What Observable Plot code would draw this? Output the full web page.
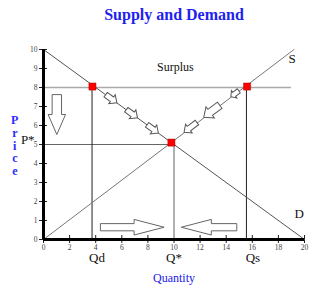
<!DOCTYPE html>
<html><head><meta charset="utf-8">
<script src="https://cdn.jsdelivr.net/npm/d3@7"></script>
<script src="https://cdn.jsdelivr.net/npm/@observablehq/plot@0.6"></script>
<style>
body{margin:0;background:#fff;width:320px;height:290px;overflow:hidden}
#title{height:30px;text-align:center;font:bold 16px "Liberation Serif",serif;color:#1f1fee;line-height:30px;padding-left:28px}
#chart svg{display:block}
</style></head><body>
<div id="title">Supply and Demand</div>
<div id="chart"></div>
<script>
// Curves
const demandQ = [0, 20], demandP = [10, 0];
const supplyQ = [0, 19.2], supplyP = [0, 10];
// Key points: Qd, equilibrium, Qs
const pointQ = [3.75, 9.8, 15.6], pointP = [8.05, 5.1, 8.05];
const surplusPrice = 8, eqPrice = 5, eqQ = 10;
const qdQ = 3.72, qsQ = 15.55;
// Tick values
const xTicks = [0, 2, 4, 6, 8, 10, 12, 14, 16, 18, 20];
const yTicks = [0, 1, 2, 3, 4, 5, 6, 7, 8, 9, 10];
// Quantity labels
const qLabels = ["Qd", "Q*", "Qs"];
const qLabelX = [4.1, 10, 16.05];
// Arrows (tail -> tip, data units) and kind
const arrowX1 = [1.06, 4.4, 14.85, 4.8, 6.38, 7.98, 15.0, 13.54, 11.79];
const arrowY1 = [7.6, 0.62, 0.62, 7.6, 6.81, 6.01, 7.8, 7.04, 6.13];
const arrowX2 = [1.06, 9.28, 10.6, 5.66, 7.24, 8.84, 14.4, 12.32, 10.81];
const arrowY2 = [5.5, 0.62, 0.62, 7.17, 6.38, 5.58, 7.49, 6.41, 5.62];
const arrowKind = ["lg", "wide", "wide", "sm", "sm", "sm", "xs", "md", "sm"];

const arrows = arrowX1.map((x1, i) => ({x1, y1: arrowY1[i], x2: arrowX2[i], y2: arrowY2[i], kind: arrowKind[i]}));
const kinds = {
  lg: {shaft: 4.7, head: 8.7, hl: 20, stroke: "#666"},
  wide: {shaft: 3.6, head: 7.8, hl: 30, stroke: "#666"},
  md: {shaft: 3.8, head: 7, hl: 8, stroke: "#555"},
  sm: {shaft: 2.8, head: 5.5, hl: 6, stroke: "#555"},
  xs: {shaft: 2.5, head: 4.5, hl: 4, stroke: "#555"}
};

function arrowMark(index, scales) {
  const g = d3.create("svg:g");
  for (const a of arrows) {
    const tx = scales.x(a.x1), ty = scales.y(a.y1);
    const px = scales.x(a.x2), py = scales.y(a.y2);
    const L = Math.hypot(px - tx, py - ty);
    const ang = Math.atan2(py - ty, px - tx) * 180 / Math.PI;
    const k = kinds[a.kind];
    const hb = L - k.hl;
    const pts = [[0, -k.shaft], [hb, -k.shaft], [hb, -k.head], [L, 0], [hb, k.head], [hb, k.shaft], [0, k.shaft]];
    g.append("polygon")
      .attr("points", pts.map(p => p.join(",")).join(" "))
      .attr("transform", `translate(${tx},${ty}) rotate(${ang})`)
      .attr("fill", "white").attr("stroke", k.stroke).attr("stroke-width", 1);
  }
  return g.node();
}

const serif = "Liberation Serif";
const demand = demandQ.map((q, i) => ({q, p: demandP[i]}));
const supply = supplyQ.map((q, i) => ({q, p: supplyP[i]}));
const points = pointQ.map((q, i) => ({q, p: pointP[i]}));

const chart = Plot.plot({
  width: 320, height: 260,
  marginTop: 19, marginBottom: 51, marginLeft: 43, marginRight: 16,
  x: {domain: [0, 20]},
  y: {domain: [0, 10]},
  style: {fontFamily: serif, background: "white"},
  marks: [
    Plot.axisX({ticks: xTicks, tickSize: 8, dy: -4, tickPadding: 1, fontSize: 7.5, label: null, stroke: "#222", fill: "#444"}),
    Plot.axisY({ticks: yTicks, tickSize: 8, dx: 4, tickPadding: 2, fontSize: 7.5, label: null, stroke: "#222", fill: "#444"}),
    Plot.ruleY([surplusPrice], {x1: 0, x2: 19, stroke: "#aaa", strokeWidth: 1.5}),
    Plot.ruleY([eqPrice], {x1: 0, x2: eqQ, stroke: "#666", strokeWidth: 1}),
    Plot.ruleX([eqQ], {y1: 0, y2: eqPrice, stroke: "#b0b0b0", strokeWidth: 2}),
    Plot.ruleX([qdQ, qsQ], {y1: 0, y2: surplusPrice, stroke: "#222", strokeWidth: 1}),
    Plot.line(demand, {x: "q", y: "p", stroke: "#555", strokeWidth: 1}),
    Plot.line(supply, {x: "q", y: "p", stroke: "#777", strokeWidth: 1}),
    arrowMark,
    Plot.dot(points, {x: "q", y: "p", symbol: "square", r: 4, fill: "#ff0000", stroke: "#aa0000", strokeWidth: 0.5}),
    Plot.ruleX([0], {y1: 0, y2: 10, stroke: "black", strokeWidth: 3}),
    Plot.ruleY([0], {x1: 0, x2: 20, stroke: "black", strokeWidth: 3}),
    Plot.text(["Surplus"], {x: 10.1, y: 9.07, fontSize: 12, fill: "#111"}),
    Plot.text(["S"], {x: 19.05, y: 9.5, fontSize: 13, fill: "#111"}),
    Plot.text(["D"], {x: 19.6, y: 1.37, fontSize: 13, fill: "#111"}),
    Plot.text(["P*"], {x: -0.68, y: 5.25, fontSize: 13, textAnchor: "end", fill: "#111"}),
    Plot.text(qLabels, {x: (d, i) => qLabelX[i], y: -0.98, fontSize: 13, fill: "#111"}),
    Plot.text(["Quantity"], {x: 10, y: -2.05, fontSize: 12, fill: "#2020ee"}),
    Plot.text(["P\nr\ni\nc\ne"], {x: -2.2, y: 4.94, fontSize: 12, fontWeight: "bold", lineHeight: 1.05, fill: "#2a2aff"})
  ]
});
document.getElementById("chart").append(chart);
</script></body></html>
